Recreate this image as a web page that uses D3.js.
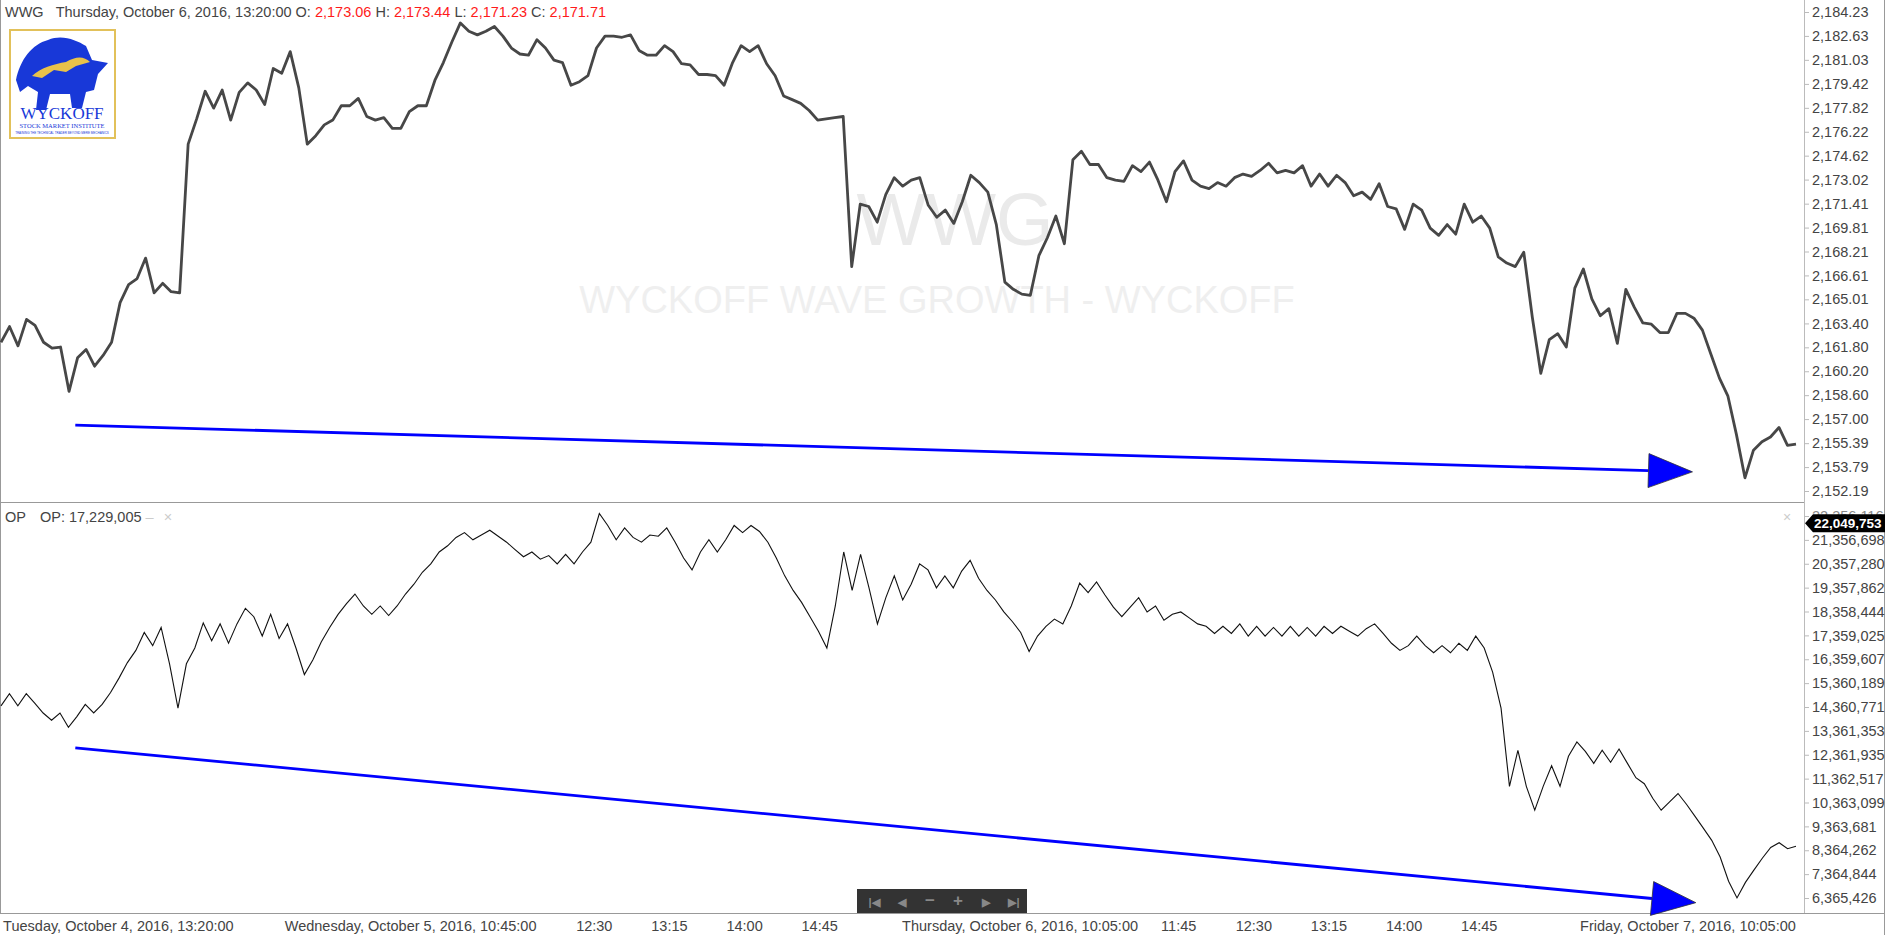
<!DOCTYPE html>
<html>
<head>
<meta charset="utf-8" />
<title>WWG / OP</title>
<script src="https://d3js.org/d3.v7.min.js"></script>
<style>
  body { margin: 0; background: #fff; }
  svg { display: block; font-family: "Liberation Sans", Arial, sans-serif; }
</style>
</head>
<body>
<svg id="chart" width="1885" height="935"></svg>
<script>
// 5-minute bars, WWG close
var wwg = [2162.14,2163.19,2161.90,2163.67,2163.27,2162.14,2161.74,2161.82,2158.85,2161.10,2161.66,2160.54,2161.26,2162.14,2164.79,2166.00,2166.40,2167.77,2165.44,2166.08,2165.52,2165.44,
  2175.39,2177.08,2178.93,2177.80,2179.01,2177.00,2178.85,2179.49,2179.01,2178.04,2180.45,2180.13,2181.58,2179.17,2175.39,2175.96,2176.68,2177.00,2177.96,2177.96,2178.45,2177.24,2177.00,2177.16,2176.44,2176.44,2177.56,2177.96,2177.96,
  2179.65,2180.85,2182.22,2183.50,2182.94,2182.70,2182.94,2183.26,2182.62,2181.82,2181.42,2181.34,2182.38,2181.82,2181.01,2180.85,2179.33,2179.57,2179.97,2181.82,2182.62,2182.62,2182.54,2182.70,2181.66,2181.34,2181.34,2181.98,2181.58,2180.77,2180.69,2180.05,2180.05,2179.97,2179.33,2180.85,2181.98,2181.58,2181.98,2180.77,2179.97,2178.61,2178.37,2178.12,2177.64,2177.00,2177.08,2177.16,2177.24,
  2167.20,2171.38,2171.22,2170.17,2172.02,2173.15,2172.58,2172.98,2173.15,2171.30,2170.50,2170.98,2170.09,2171.54,2173.31,2172.82,2172.18,2170.01,2166.16,2165.68,2165.36,2165.28,2167.93,2169.13,2170.58,2168.73,
  2174.35,2174.91,2174.03,2174.03,2173.15,2172.98,2172.90,2173.95,2173.55,2174.19,2172.98,2171.54,2173.55,2174.27,2172.98,2172.58,2172.42,2172.82,2172.58,2173.15,2173.39,2173.23,2173.63,2174.11,2173.47,2173.63,2173.47,2173.95,2172.58,2173.39,2172.58,2173.31,2172.82,2171.94,2172.18,2171.70,2172.74,2171.22,2171.06,2169.69,2171.38,2170.98,2169.77,2169.29,2170.01,2169.37,2171.38,2170.17,2170.58,2169.77,2167.85,2167.44,2167.20,2168.17,
  2163.83,2160.06,2162.31,2162.71,2161.82,2165.76,2167.04,2165.04,2163.91,2164.39,2162.06,2165.68,2164.47,2163.43,2163.35,2162.79,2162.79,2164.07,2164.07,2163.75,2162.95,2161.34,2159.74,2158.53,2155.96,2153.07,2154.92,2155.48,2155.80,2156.44,2155.24,2155.32];

// OP indicator, millions
var op = [14.41,14.92,14.41,14.92,14.52,14.11,13.81,14.11,13.51,13.96,14.47,14.11,14.47,14.97,15.57,16.22,16.73,17.48,16.93,17.69,16.17,14.31,16.17,16.83,17.88,17.13,17.84,17.03,17.84,18.49,18.14,17.33,18.24,17.23,17.84,16.83,15.72,16.33,17.08,17.69,18.24,18.69,19.09,18.59,18.24,18.59,18.19,18.59,19.09,19.50,20.00,20.35,20.85,21.11,21.46,21.66,21.36,21.56,21.76,21.51,21.26,20.95,20.65,20.85,20.55,20.70,20.35,20.75,20.35,20.85,21.26,
  22.46,21.96,21.36,21.86,21.46,21.26,21.56,21.51,21.86,21.26,20.60,20.10,20.85,21.36,20.85,21.36,21.96,21.66,21.96,21.71,21.26,20.60,19.85,19.24,18.74,18.14,17.53,16.83,18.59,20.85,19.24,20.75,19.35,17.84,18.94,19.85,18.84,19.50,20.35,20.10,19.35,19.85,19.35,20.05,20.50,19.75,19.24,18.84,18.34,17.94,17.48,16.68,17.33,17.74,18.04,17.84,18.59,19.55,19.15,19.60,19.05,18.54,18.14,18.54,18.94,18.34,18.59,17.99,18.24,18.34,18.09,17.84,17.74,17.44,17.74,17.44,17.84,17.33,17.74,17.33,17.69,17.33,17.74,17.33,17.69,17.33,17.74,17.44,17.74,17.53,17.33,17.64,17.84,17.44,17.03,16.73,16.93,17.33,16.93,16.63,16.93,16.63,17.03,16.73,17.33,16.83,15.82,14.31,
  11.04,12.55,11.04,10.04,11.04,11.90,11.04,12.30,12.90,12.50,12.00,12.55,12.05,12.60,12.00,11.40,11.15,10.54,10.04,10.39,10.74,10.29,9.79,9.29,8.78,8.08,7.07,6.37,7.02,7.53,8.03,8.48,8.68,8.43,8.53];

var priceTicks = [2184.23,2182.63,2181.03,2179.42,2177.82,2176.22,2174.62,2173.02,2171.41,2169.81,2168.21,2166.61,2165.01,2163.40,2161.80,2160.20,2158.60,2157.00,2155.39,2153.79,2152.19];
var opTicks = [22356116,21356698,20357280,19357862,18358444,17359025,16359607,15360189,14360771,13361353,12361935,11362517,10363099,9363681,8364262,7364844,6365426];

// bar index -> label
var timeTicks = [
  { bar: 14, label: "Tuesday, October 4, 2016, 13:20:00" },
  { bar: 49, label: "Wednesday, October 5, 2016, 10:45:00" },
  { bar: 71, label: "12:30" }, { bar: 80, label: "13:15" }, { bar: 89, label: "14:00" }, { bar: 98, label: "14:45" },
  { bar: 122, label: "Thursday, October 6, 2016, 10:05:00" },
  { bar: 141, label: "11:45" }, { bar: 150, label: "12:30" }, { bar: 159, label: "13:15" }, { bar: 168, label: "14:00" }, { bar: 177, label: "14:45" },
  { bar: 202, label: "Friday, October 7, 2016, 10:05:00" }
];

// trend arrows: [bar, value] start and tip
var priceArrow = [[8.9, 2156.60], [202.6, 2153.47]];
var opArrow = [[8.9, 12.65], [203.0, 6.17]];

var svg = d3.select("#chart");
var W = 1885, axisX = 1804, nBars = 215;

var x = d3.scaleLinear().domain([0, nBars]).range([1, 1796]);
var yP = d3.scaleLinear().domain([2152.19, 2184.23]).range([491, 12]);
var yO = d3.scaleLinear().domain([6.365426, 22.356116]).range([898, 516]);

function idx(arr) { return function (d, i) { return x(i * nBars / (arr.length - 1)); }; }

// frame
svg.append("line").attr("x1", 0.5).attr("x2", 0.5).attr("y1", 0).attr("y2", 913).attr("stroke", "#999");
svg.append("line").attr("x1", 0).attr("x2", axisX).attr("y1", 502.5).attr("y2", 502.5).attr("stroke", "#999");
svg.append("line").attr("x1", 0).attr("x2", W).attr("y1", 913.5).attr("y2", 913.5).attr("stroke", "#999");
svg.append("line").attr("x1", axisX + 0.5).attr("x2", axisX + 0.5).attr("y1", 0).attr("y2", 913).attr("stroke", "#bbb");
svg.append("line").attr("x1", W - 0.5).attr("x2", W - 0.5).attr("y1", 0).attr("y2", 935).attr("stroke", "#999");

// watermark
svg.append("text").attr("x", 955).attr("y", 245).attr("text-anchor", "middle")
  .attr("font-size", 74).attr("fill", "#eaeaea").text("WWG");
svg.append("text").attr("x", 937).attr("y", 313).attr("text-anchor", "middle")
  .attr("font-size", 38).attr("fill", "#efefef").text("WYCKOFF WAVE GROWTH - WYCKOFF");

// axes
var ap = d3.axisRight(yP).tickValues(priceTicks).tickSize(5).tickFormat(d3.format(",.2f"));
var gp = svg.append("g").attr("transform", "translate(" + axisX + ",0)").call(ap);
var ao = d3.axisRight(yO).tickValues(opTicks.map(function (d) { return d / 1e6; })).tickSize(5)
  .tickFormat(function (d) { return d3.format(",")(Math.round(d * 1e6)); });
var go = svg.append("g").attr("transform", "translate(" + axisX + ",0)").call(ao);
[gp, go].forEach(function (g) {
  g.select(".domain").remove();
  g.selectAll("line").attr("stroke", "#bbb");
  g.selectAll("text").attr("font-size", 14.5).attr("fill", "#444").attr("x", 8).attr("font-family", "Liberation Sans, Arial");
});
// top OP label sits under the last-value flag
go.selectAll(".tick").filter(function (d, i) { return i === 0; }).select("text").attr("fill", "#888");

var ax = d3.axisBottom(x).tickValues(timeTicks.map(function (d) { return d.bar; })).tickSize(0)
  .tickFormat(function (d) { return timeTicks.find(function (t) { return t.bar === d; }).label; });
var gx = svg.append("g").attr("transform", "translate(0,914)").call(ax);
gx.select(".domain").remove();
gx.selectAll("text").attr("font-size", 14.5).attr("fill", "#444").attr("dy", "0.95em").attr("font-family", "Liberation Sans, Arial");

// series
svg.append("path").datum(wwg)
  .attr("d", d3.line().x(idx(wwg)).y(function (d) { return yP(d); }))
  .attr("fill", "none").attr("stroke", "#474747").attr("stroke-width", 2.8).attr("stroke-linejoin", "round");
svg.append("path").datum(op)
  .attr("d", d3.line().x(idx(op)).y(function (d) { return yO(d); }))
  .attr("fill", "none").attr("stroke", "#111").attr("stroke-width", 1.1);

// arrows
function arrow(pts, y) {
  var x0 = x(pts[0][0]), y0 = y(pts[0][1]), x1 = x(pts[1][0]), y1 = y(pts[1][1]);
  var a = Math.atan2(y1 - y0, x1 - x0), L = 44, H = 17;
  var bx = x1 - L * Math.cos(a), by = y1 - L * Math.sin(a);
  svg.append("line").attr("x1", x0).attr("y1", y0).attr("x2", bx).attr("y2", by)
    .attr("stroke", "#0000ff").attr("stroke-width", 2.8);
  var p = [[x1, y1], [bx + H * Math.sin(a), by - H * Math.cos(a)], [bx - H * Math.sin(a), by + H * Math.cos(a)]];
  svg.append("path").attr("d", "M" + p.join("L") + "Z").attr("fill", "#0000ff").attr("stroke", "#333").attr("stroke-width", 0.8);
}
arrow(priceArrow, yP);
arrow(opArrow, yO);

// headers
var h = svg.append("text").attr("x", 5).attr("y", 17).attr("font-size", 14.5).attr("fill", "#444");
h.append("tspan").text("WWG");
h.append("tspan").attr("dx", 12).text("Thursday, October 6, 2016, 13:20:00 O: ");
h.append("tspan").attr("fill", "#ff1a1a").text("2,173.06");
h.append("tspan").text(" H: ");
h.append("tspan").attr("fill", "#ff1a1a").text("2,173.44");
h.append("tspan").text(" L: ");
h.append("tspan").attr("fill", "#ff1a1a").text("2,171.23");
h.append("tspan").text(" C: ");
h.append("tspan").attr("fill", "#ff1a1a").text("2,171.71");

var h2 = svg.append("text").attr("x", 5).attr("y", 522).attr("font-size", 14.5).attr("fill", "#444");
h2.append("tspan").text("OP");
h2.append("tspan").attr("dx", 14).text("OP: 17,229,005 ");
h2.append("tspan").attr("fill", "#ccc").text(" \u2013  ");
h2.append("tspan").attr("fill", "#ccc").attr("dx", 6).text("\u00d7");
svg.append("text").attr("x", 1787).attr("y", 522).attr("text-anchor", "middle").attr("font-size", 14).attr("fill", "#ccc").text("\u00d7");

// last value flag
var fy = yO(22.049753);
svg.append("path").attr("d", "M" + (axisX + 1) + "," + fy + "l8,-9h72v18h-72z").attr("fill", "#000");
svg.append("text").attr("x", axisX + 10).attr("y", fy + 5).attr("font-size", 13.5).attr("font-weight", "bold")
  .attr("fill", "#fff").text("22,049,753");

// logo
var lg = svg.append("g").attr("transform", "translate(10,30)");
lg.append("rect").attr("width", 105).attr("height", 108).attr("fill", "#fff").attr("stroke", "#e2c15a").attr("stroke-width", 2);
lg.append("path").attr("d", "M6,50 C10,30 22,14 38,10 C52,4 66,10 76,16 L82,30 L98,33 L88,44 L84,60 L76,62 L72,78 L62,78 L60,64 L40,64 L36,80 L26,80 L28,62 L18,56 L10,62 Z")
  .attr("fill", "#1838d8");
lg.append("path").attr("d", "M22,46 C30,38 44,34 56,32 C66,26 74,26 80,32 L66,36 L56,42 L44,40 L32,48 Z").attr("fill", "#e9c24a");
lg.append("text").attr("x", 52).attr("y", 89).attr("text-anchor", "middle").attr("font-family", "Liberation Serif, serif")
  .attr("font-size", 17).attr("fill", "#1838d8").text("WYCKOFF");
lg.append("text").attr("x", 52).attr("y", 98).attr("text-anchor", "middle").attr("font-family", "Liberation Serif, serif")
  .attr("font-size", 6.5).attr("fill", "#1838d8").text("STOCK MARKET INSTITUTE");
lg.append("text").attr("x", 52).attr("y", 104).attr("text-anchor", "middle").attr("font-size", 3).attr("fill", "#1838d8")
  .text("TRAINING THE TECHNICAL TRADER BEYOND MERE MECHANICS");

// navigation bar
var nav = svg.append("g").attr("transform", "translate(857,889)");
nav.append("rect").attr("width", 170).attr("height", 24).attr("fill", "#333");
var icons = ["|\u25C0", "\u25C0", "\u2212", "+", "\u25B6", "\u25B6|"];
icons.forEach(function (t, i) {
  nav.append("text").attr("x", 17 + i * 28).attr("y", 17).attr("text-anchor", "middle")
    .attr("font-size", i === 2 || i === 3 ? 17 : 11).attr("font-weight", "bold").attr("fill", "#888").text(t);
});
</script>
</body>
</html>
